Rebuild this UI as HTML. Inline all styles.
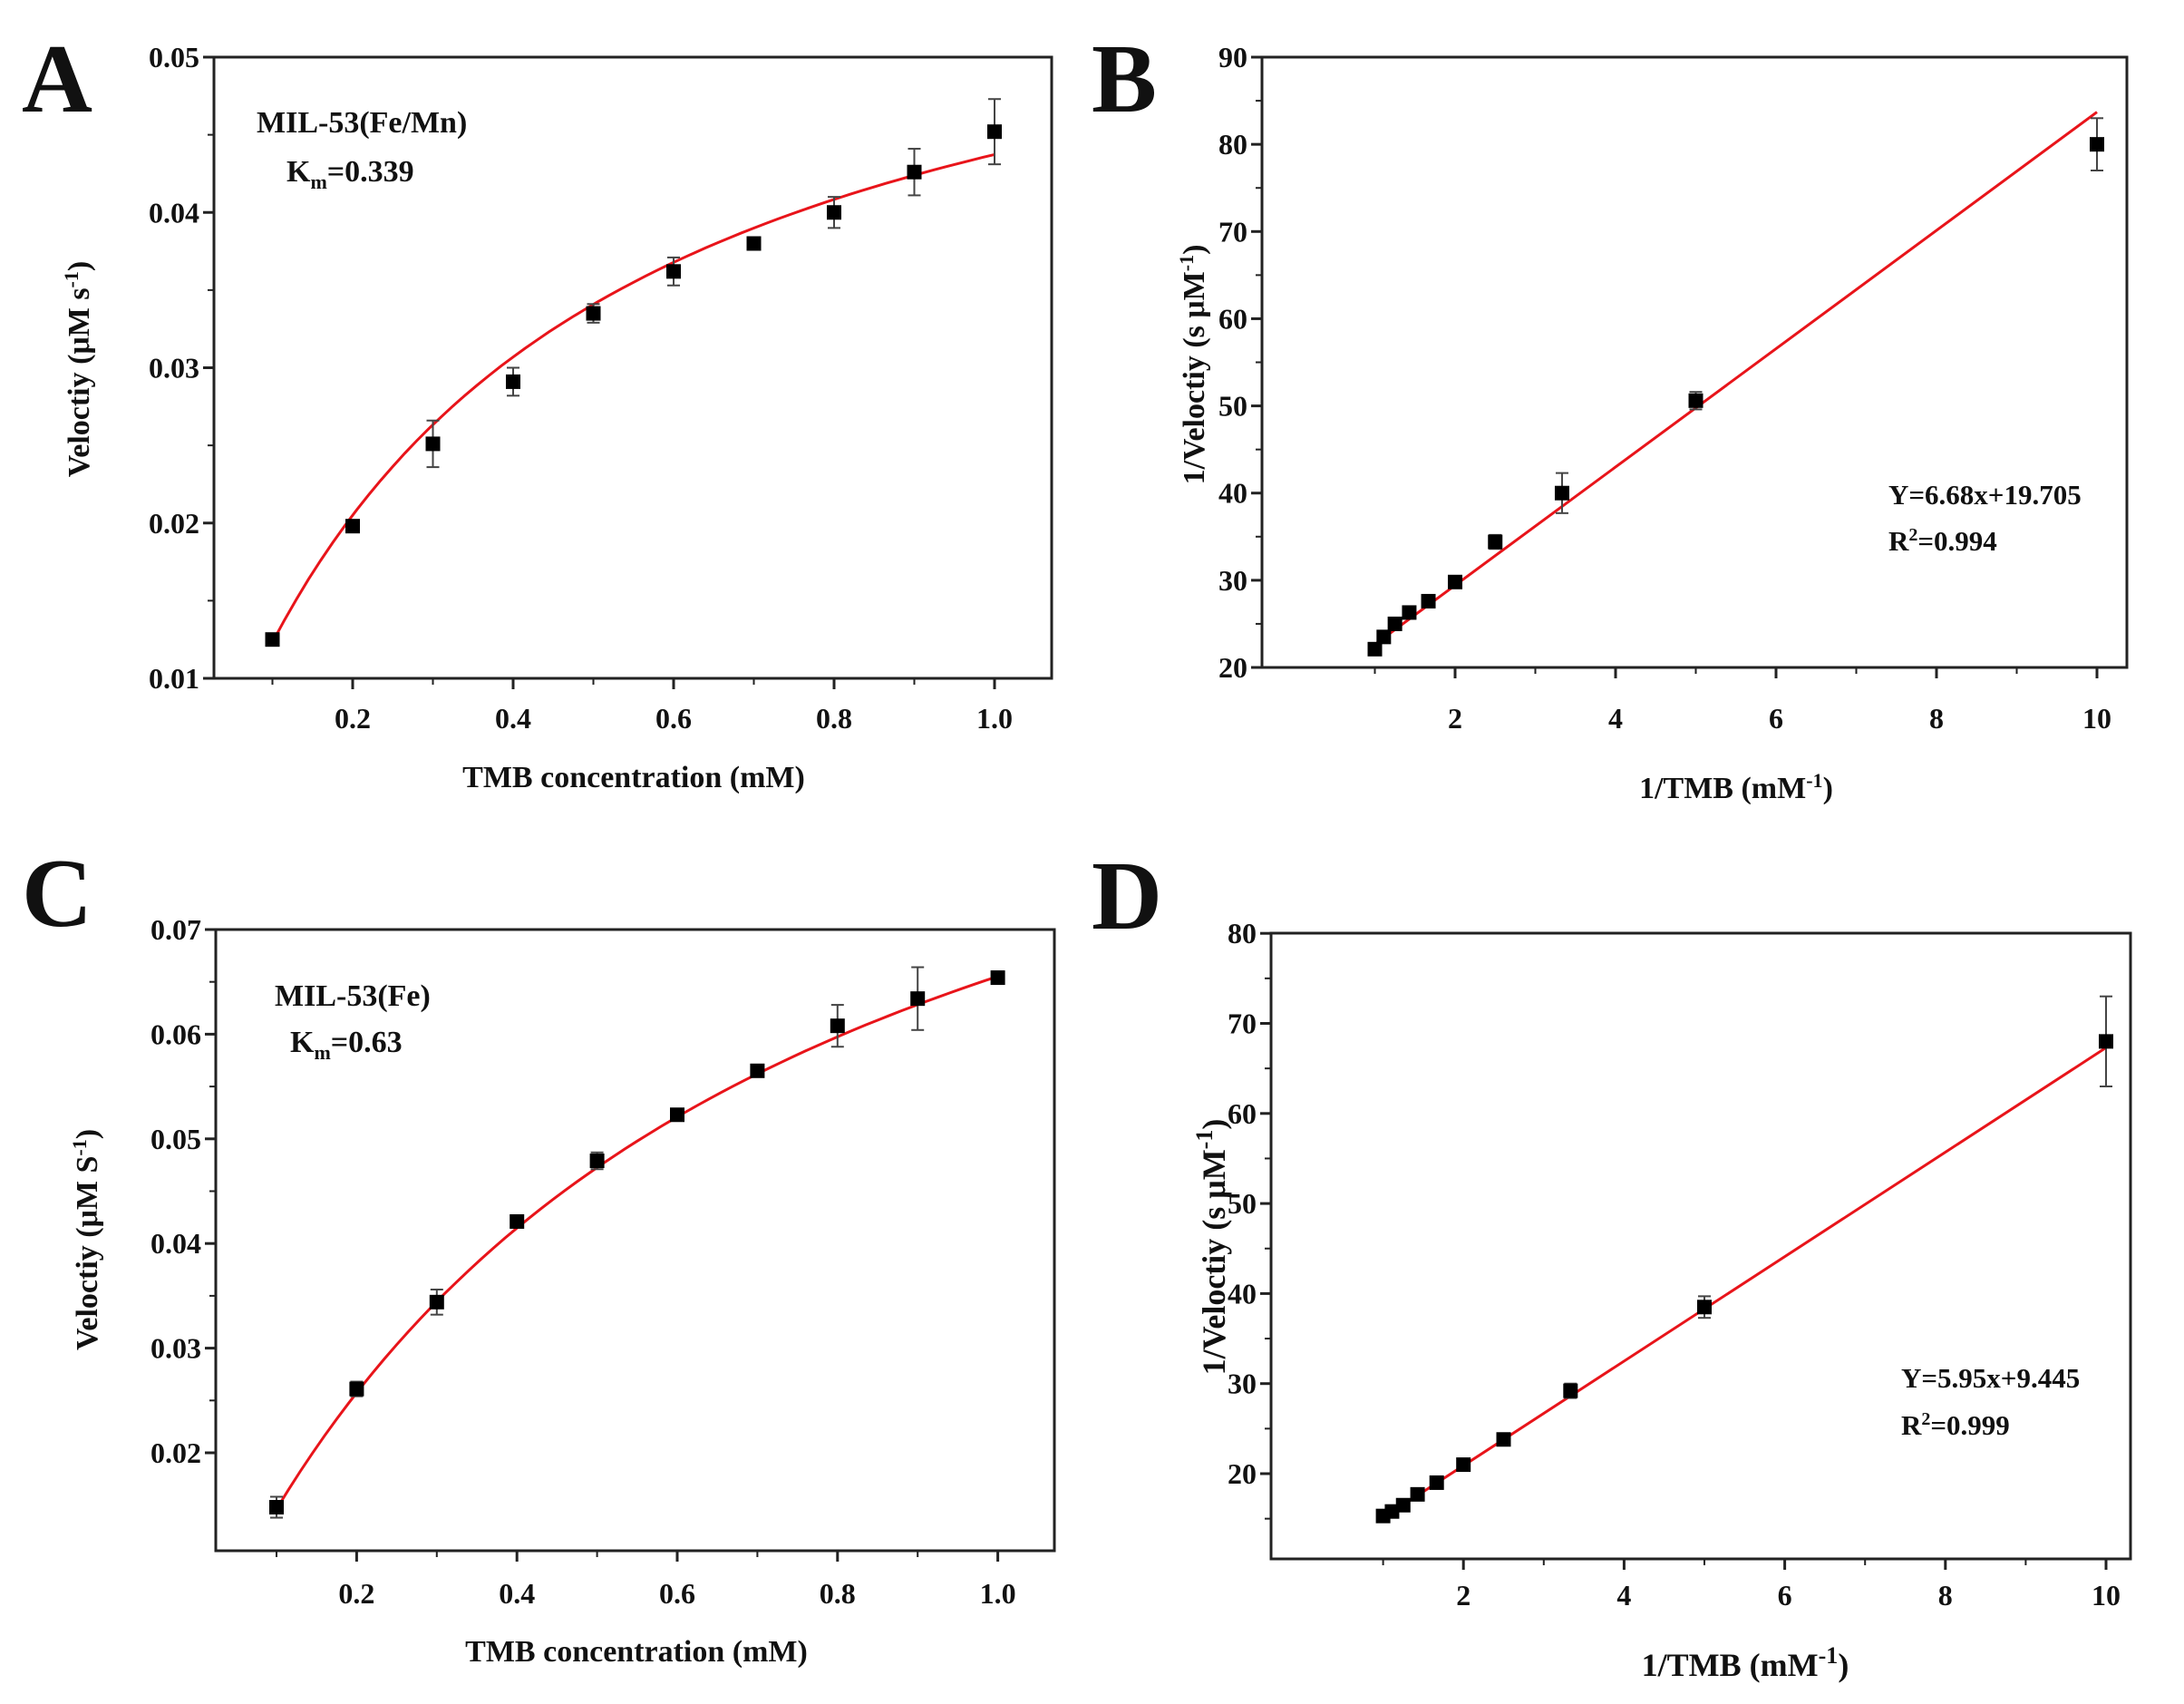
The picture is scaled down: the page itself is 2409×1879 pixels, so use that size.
<!DOCTYPE html><html><head><meta charset="utf-8"><style>body{margin:0;background:#fff}svg{display:block}text{font-family:"Liberation Serif",serif;font-weight:bold;fill:#111}</style></head><body>
<svg id="s" width="2409" height="1879" xmlns="http://www.w3.org/2000/svg"></svg>
<script>
const s=document.getElementById('s');let h='';
function T(x,y,t,sz,anc,extra){h+=`<text x="${x}" y="${y}" font-size="${sz}" text-anchor="${anc||'start'}" ${extra||''}>${t}</text>`;}
function panel(P){
 const X=v=>P.x0+(v-P.xa)*P.xs, Y=v=>P.y0-(v-P.ya)*P.ys;
 h+=`<rect x="${P.L}" y="${P.Tp}" width="${P.R-P.L}" height="${P.B-P.Tp}" fill="none" stroke="#222" stroke-width="3"/>`;
 P.yt.forEach(v=>{const y=Y(v);h+=`<line x1="${P.L-12}" x2="${P.L}" y1="${y}" y2="${y}" stroke="#222" stroke-width="3"/>`;T(P.L-16,y+11,P.yf(v),32,'end');});
 P.ym.forEach(v=>{const y=Y(v);h+=`<line x1="${P.L-7}" x2="${P.L}" y1="${y}" y2="${y}" stroke="#222" stroke-width="2"/>`;});
 P.xt.forEach(v=>{const x=X(v);h+=`<line x1="${x}" x2="${x}" y1="${P.B}" y2="${P.B+12}" stroke="#222" stroke-width="3"/>`;T(x,P.xl,P.xf(v),32,'middle');});
 P.xm.forEach(v=>{const x=X(v);h+=`<line x1="${x}" x2="${x}" y1="${P.B}" y2="${P.B+7}" stroke="#222" stroke-width="2"/>`;});
 let d='';P.curve.forEach((p,i)=>{d+=(i?'L':'M')+X(p[0]).toFixed(1)+','+Y(p[1]).toFixed(1);});
 h+=`<path d="${d}" fill="none" stroke="#e8141a" stroke-width="3"/>`;
 P.px.forEach((xv,i)=>{const x=X(xv),y=Y(P.py[i]),e=P.pe[i]*P.ys;
  h+=`<line x1="${x}" x2="${x}" y1="${y-e}" y2="${y+e}" stroke="#444" stroke-width="2"/><line x1="${x-7}" x2="${x+7}" y1="${y-e}" y2="${y-e}" stroke="#444" stroke-width="2"/><line x1="${x-7}" x2="${x+7}" y1="${y+e}" y2="${y+e}" stroke="#444" stroke-width="2"/>`;
  h+=`<rect x="${x-8}" y="${y-8}" width="16" height="16" fill="#000"/>`;});
}
const xs01=[.1,.2,.3,.4,.5,.6,.7,.8,.9,1];
function mm(V,K,a,b){let r=[];for(let i=0;i<=60;i++){const x=a+(b-a)*i/60;r.push([x,V*x/(K+x)]);}return r;}
panel({L:236,R:1160,Tp:63,B:748,xa:.1,x0:300.5,xs:885,ya:.01,y0:748,ys:17125,
 yt:[.01,.02,.03,.04,.05],yf:v=>v.toFixed(2),ym:[.015,.025,.035,.045],
 xt:[.2,.4,.6,.8,1],xf:v=>v.toFixed(1),xm:[.1,.3,.5,.7,.9],xl:803,
 curve:mm(.0610,.395,.1,1),px:xs01,
 py:[.0125,.0198,.0251,.0291,.0335,.0362,.0380,.0400,.0426,.0452],
 pe:[.0003,.0003,.0015,.0009,.0006,.0009,.0003,.001,.0015,.0021]});
panel({L:238,R:1163,Tp:1025,B:1710,xa:.1,x0:305,xs:884,ya:.02,y0:1602,ys:11540,
 yt:[.02,.03,.04,.05,.06,.07],yf:v=>v.toFixed(2),ym:[.025,.035,.045,.055,.065],
 xt:[.2,.4,.6,.8,1],xf:v=>v.toFixed(1),xm:[.1,.3,.5,.7,.9],xl:1768,
 curve:mm(.1068,.63,.1,1),px:xs01,
 py:[.0148,.0261,.0344,.0421,.0479,.0523,.0565,.0608,.0634,.0654],
 pe:[.001,.0007,.0012,.0006,.0008,.0003,.0003,.002,.003,.0006]});
const ix=[10,5,3.333,2.5,2,1.667,1.4286,1.25,1.111,1];
panel({L:1392,R:2346,Tp:63,B:736,xa:0,x0:1428,xs:88.5,ya:20,y0:736,ys:9.614,
 yt:[20,30,40,50,60,70,80,90],yf:v=>v,ym:[25,35,45,55,65,75,85],
 xt:[2,4,6,8,10],xf:v=>v,xm:[1,3,5,7,9],xl:803,
 curve:[[0.95,22.3],[10,83.7]],px:ix,
 py:[80,50.6,40,34.4,29.8,27.6,26.3,25,23.5,22.1],
 pe:[3,1,2.3,.8,.4,.3,.3,.5,.6,.6]});
panel({L:1402,R:2350,Tp:1029,B:1719,xa:0,x0:1437,xs:88.6,ya:20,y0:1625,ys:9.93,
 yt:[20,30,40,50,60,70,80],yf:v=>v,ym:[15,25,35,45,55,65,75],
 xt:[2,4,6,8,10],xf:v=>v,xm:[1,3,5,7,9],xl:1770,
 curve:[[1,15.1],[10,67.3]],px:ix,
 py:[68,38.5,29.2,23.8,21,19,17.7,16.5,15.8,15.3],
 pe:[5,1.2,.8,.4,.3,.3,.3,.3,.3,.3]});
T(24,123,'A',108);T(1204,123,'B',108);T(24,1021,'C',108);T(1204,1024,'D',108);
T(699,868,'TMB concentration (mM)',34,'middle');
T(702,1832,'TMB concentration (mM)',34,'middle');
T(1915,880,'1/TMB (mM<tspan dy="-12" font-size="22">-1</tspan><tspan dy="12">)</tspan>',34,'middle');
T(1925,1848,'1/TMB (mM<tspan dy="-14" font-size="26">-1</tspan><tspan dy="14">)</tspan>',36,'middle');
T(0,0,'Veloctiy (μM s<tspan dy="-12" font-size="22">-1</tspan><tspan dy="12">)</tspan>',34,'middle','transform="translate(98,407) rotate(-90)"');
T(0,0,'Veloctiy (μM S<tspan dy="-12" font-size="22">-1</tspan><tspan dy="12">)</tspan>',34,'middle','transform="translate(107,1367) rotate(-90)"');
T(0,0,'1/Veloctiy (s  μM<tspan dy="-12" font-size="22">-1</tspan><tspan dy="12">)</tspan>',34,'middle','transform="translate(1328,402) rotate(-90)"');
T(0,0,'1/Veloctiy (s μM<tspan dy="-14" font-size="26">-1</tspan><tspan dy="14">)</tspan>',36,'middle','transform="translate(1351,1375) rotate(-90)"');
T(283,146,'MIL-53(Fe/Mn)',34);
T(316,200,'K<tspan dy="8" font-size="22">m</tspan><tspan dy="-8">=0.339</tspan>',34);
T(303,1109,'MIL-53(Fe)',34);
T(320,1160,'K<tspan dy="8" font-size="22">m</tspan><tspan dy="-8">=0.63</tspan>',34);
T(2083,556,'Y=6.68x+19.705',31);
T(2083,607,'R<tspan dy="-11" font-size="20">2</tspan><tspan dy="11">=0.994</tspan>',31);
T(2097,1530,'Y=5.95x+9.445',31);
T(2097,1582,'R<tspan dy="-11" font-size="20">2</tspan><tspan dy="11">=0.999</tspan>',31);
s.innerHTML=h;
</script></body></html>
